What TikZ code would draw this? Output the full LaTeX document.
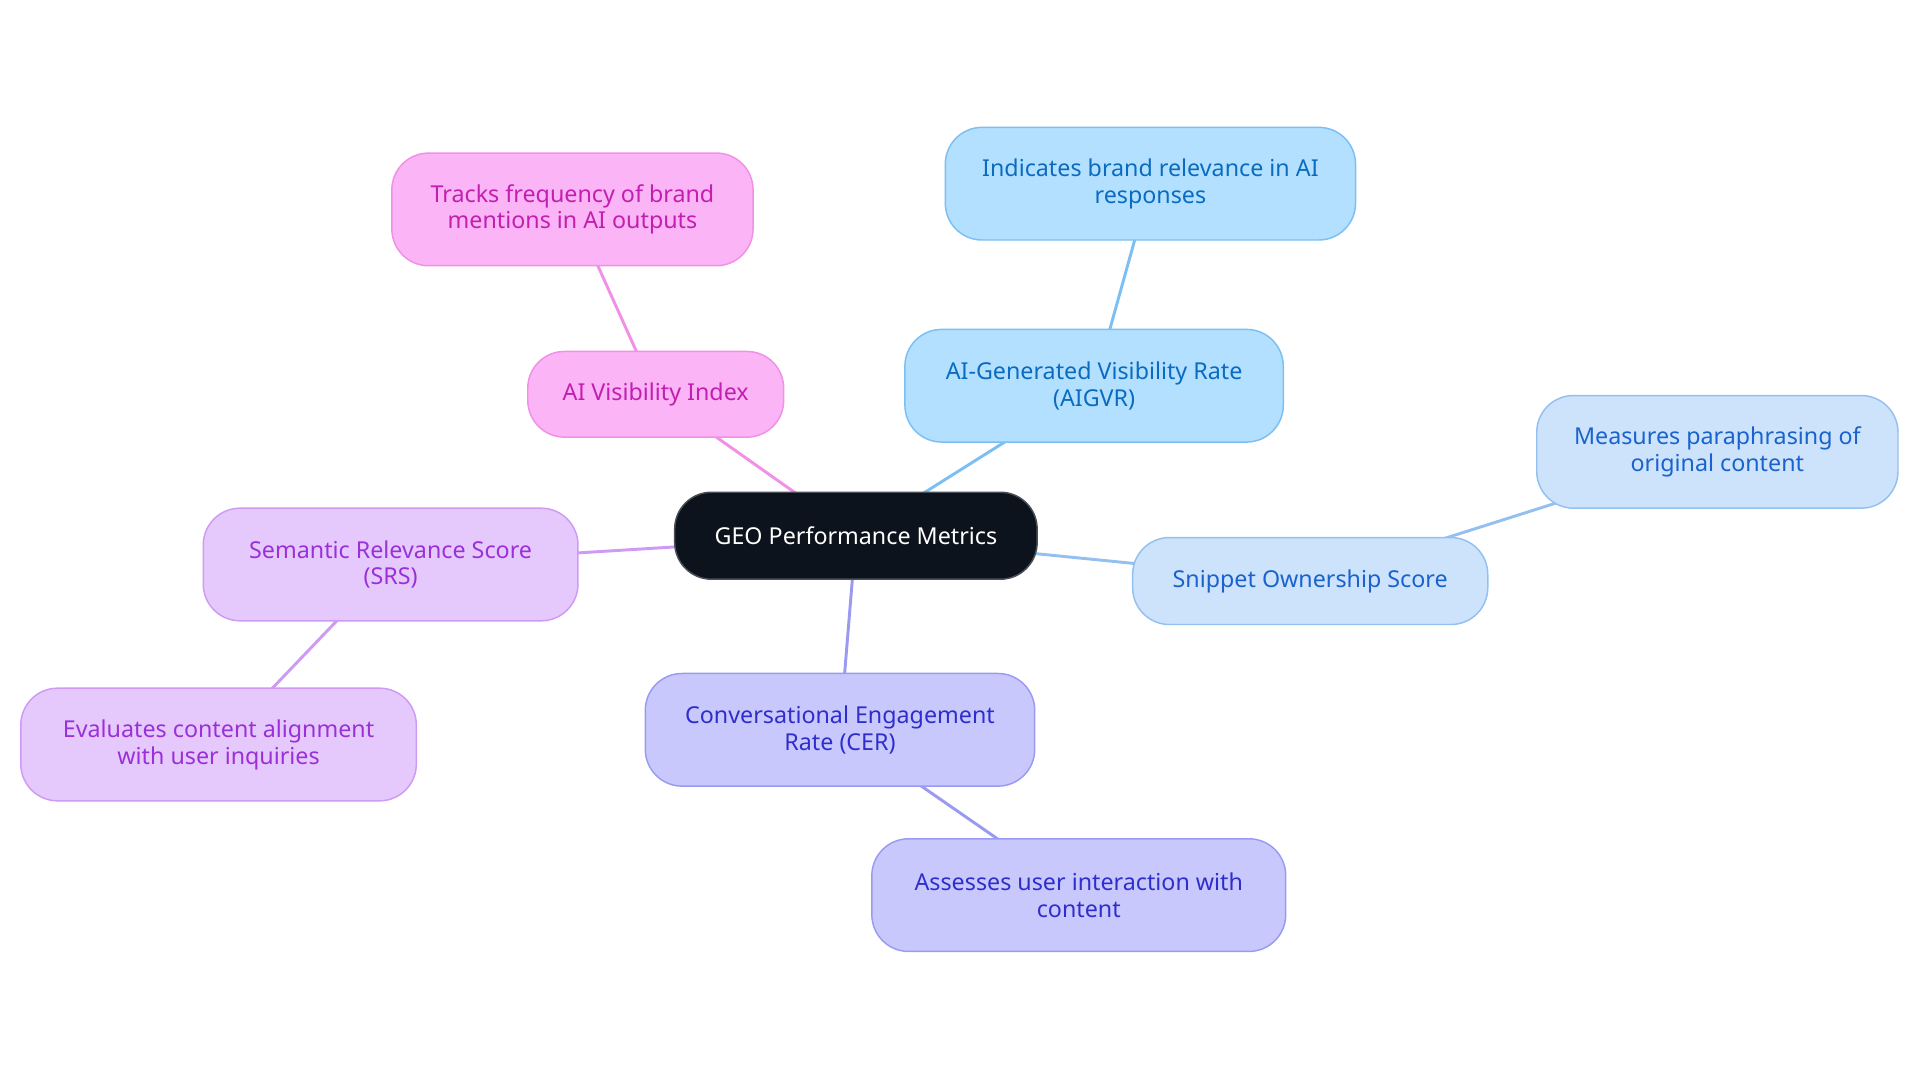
\documentclass[tikz,border=0pt]{standalone}
\usepackage{fontspec}
\setmainfont{Noto Sans}
\usetikzlibrary{backgrounds}
\definecolor{cfill}{HTML}{0D131C}
\definecolor{cdraw}{HTML}{4A4F57}
\definecolor{pfill}{HTML}{FBB4F5}
\definecolor{pdraw}{HTML}{F090E6}
\definecolor{ptext}{HTML}{C21FB0}
\definecolor{bfill}{HTML}{B3E0FF}
\definecolor{bdraw}{HTML}{7CBFF2}
\definecolor{btext}{HTML}{0A6BC0}
\definecolor{sfill}{HTML}{CCE3FB}
\definecolor{sdraw}{HTML}{94C0F0}
\definecolor{stext}{HTML}{1A62CC}
\definecolor{vfill}{HTML}{C8C8FD}
\definecolor{vdraw}{HTML}{9A9AF2}
\definecolor{vtext}{HTML}{2E2ECC}
\definecolor{lfill}{HTML}{E6C9FC}
\definecolor{ldraw}{HTML}{CF9AF4}
\definecolor{ltext}{HTML}{9930D8}
\begin{document}
\begin{tikzpicture}[x=0.5pt,y=-0.5pt,
  mm/.style={rectangle, rounded corners=15pt, draw, line width=0.6pt, align=center,
    font=\fontsize{9.5}{11}\selectfont, inner sep=0pt},
  pinknode/.style={mm, fill=pfill, draw=pdraw, text=ptext},
  bluenode/.style={mm, fill=bfill, draw=bdraw, text=btext},
  skynode/.style={mm, fill=sfill, draw=sdraw, text=stext},
  violetnode/.style={mm, fill=vfill, draw=vdraw, text=vtext},
  lilacnode/.style={mm, fill=lfill, draw=ldraw, text=ltext},
  link/.style={line width=1.2pt}]
\useasboundingbox (0,0) rectangle (1568,884.4);

\node[mm, fill=cfill, draw=cdraw, text=white, minimum width=148pt, minimum height=35.5pt] (geo) at (699,437.5) {GEO Performance Metrics};

\node[pinknode, minimum width=104.5pt, minimum height=35pt] (avi) at (535.5,322) {AI Visibility Index};
\node[pinknode, minimum width=147.5pt, minimum height=46pt] (tracks) at (467.5,171) {Tracks frequency of brand\\mentions in AI outputs};

\node[bluenode, minimum width=154.5pt, minimum height=46pt] (aigvr) at (893.5,315) {AI-Generated Visibility Rate\\(AIGVR)};
\node[bluenode, minimum width=167.5pt, minimum height=46pt] (indic) at (939.5,150) {Indicates brand relevance in AI\\responses};

\node[skynode, minimum width=145pt, minimum height=35.5pt] (snip) at (1070,474.5) {Snippet Ownership Score};
\node[skynode, minimum width=147.5pt, minimum height=46pt] (meas) at (1402.5,369) {Measures paraphrasing of\\original content};

\node[violetnode, minimum width=159pt, minimum height=46pt] (cer) at (686,596) {Conversational Engagement\\Rate (CER)};
\node[violetnode, minimum width=169pt, minimum height=46pt] (asse) at (881,731) {Assesses user interaction with\\content};

\node[lilacnode, minimum width=153pt, minimum height=46pt] (srs) at (319,461) {Semantic Relevance Score\\(SRS)};
\node[lilacnode, minimum width=161.5pt, minimum height=46pt] (eval) at (178.5,608) {Evaluates content alignment\\with user inquiries};

\begin{pgfonlayer}{background}
\draw[link, draw=pdraw] (geo.center) -- (avi.center);
\draw[link, draw=pdraw] (avi.center) -- (tracks.center);
\draw[link, draw=bdraw] (geo.center) -- (aigvr.center);
\draw[link, draw=bdraw] (aigvr.center) -- (indic.center);
\draw[link, draw=sdraw] (geo.center) -- (snip.center);
\draw[link, draw=sdraw] (snip.center) -- (meas.center);
\draw[link, draw=vdraw] (geo.center) -- (cer.center);
\draw[link, draw=vdraw] (cer.center) -- (asse.center);
\draw[link, draw=ldraw] (geo.center) -- (srs.center);
\draw[link, draw=ldraw] (srs.center) -- (eval.center);
\end{pgfonlayer}
\end{tikzpicture}
\end{document}
